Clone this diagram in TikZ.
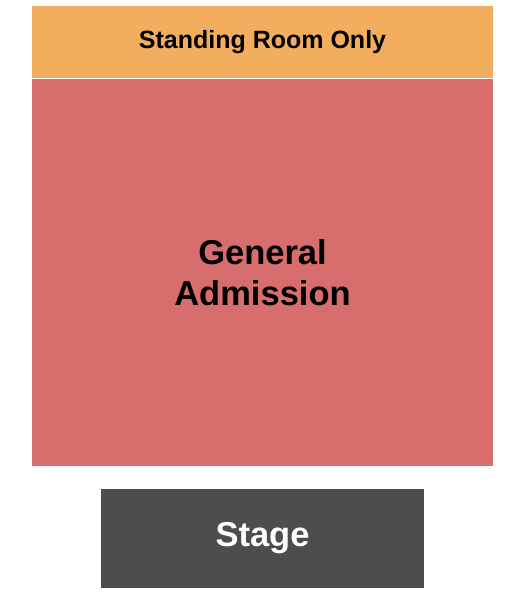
\documentclass[tikz,border=0pt]{standalone}
\usepackage{fontspec}
\setmainfont{Liberation Sans}
\usepackage{tikz}
\usetikzlibrary{positioning}
\definecolor{sroorange}{HTML}{F2AE5E}
\definecolor{gared}{HTML}{D76D6D}
\definecolor{stagegray}{HTML}{4D4D4D}
\begin{document}
\begin{tikzpicture}[x=1pt,y=-1pt]

\tikzstyle{area}=[draw=none,inner sep=0pt,outer sep=0pt,align=center]

\useasboundingbox (0,0) rectangle (525,592);

% STANDING ROOM
\node [area,fill=sroorange,minimum width=461pt,minimum height=72pt,font=\bfseries\fontsize{25}{30}\selectfont] (sro) at (262.5,42) {Standing Room Only};

% GENERAL ADMISSION
\node [area,fill=gared,minimum width=461pt,minimum height=387pt,below=1pt of sro,font=\bfseries\fontsize{34.5}{41}\selectfont] (ga) {General\\Admission};

% STAGE
\node [area,fill=stagegray,text=white,minimum width=323pt,minimum height=99pt,font=\bfseries\fontsize{34.5}{40}\selectfont] (stage) at (262.5,538.5) {Stage};

\end{tikzpicture}
\end{document}
